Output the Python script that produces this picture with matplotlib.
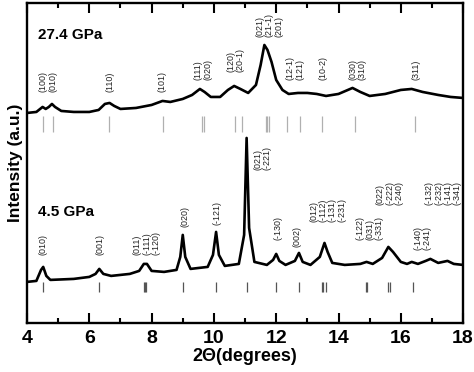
import matplotlib.pyplot as plt
import numpy as np

plt.rcParams['font.family'] = ['Liberation Sans', 'DejaVu Sans']

# curve vertices, intensity in arbitrary units (0..320)
hi_x = [4.0, 4.3, 4.5, 4.6, 4.7, 4.8, 4.9, 5.1, 5.5, 6.0, 6.3, 6.5, 6.65, 6.8, 7.0,
        7.5, 8.0, 8.35, 8.6, 9.0, 9.3, 9.55, 9.7, 9.9, 10.2, 10.45, 10.65, 10.85,
        11.1, 11.35, 11.5, 11.62, 11.72, 11.85, 12.0, 12.2, 12.4, 12.7, 13.0, 13.3,
        13.6, 14.0, 14.3, 14.45, 14.7, 15.0, 15.5, 16.0, 16.35, 16.7, 17.2, 17.6, 18.0]
hi_y = [210, 211, 216, 214, 216, 219, 216, 212, 211, 211, 213, 219, 220, 217, 214,
        215, 218, 222, 221, 224, 228, 234, 231, 226, 226, 233, 237, 234,
        230, 238, 258, 278, 273, 261, 243, 233, 229, 230, 230, 229,
        227, 229, 233, 235, 231, 227, 229, 233, 234, 231, 228, 226, 225]

lo_x = [4.0, 4.3, 4.45, 4.52, 4.62, 4.75, 5.5, 6.0, 6.2, 6.32, 6.45, 6.7, 7.3, 7.6,
        7.75, 7.85, 8.0, 8.4, 8.8, 8.92, 9.0, 9.08, 9.25, 9.8, 9.97, 10.07, 10.16,
        10.35, 10.8, 10.97, 11.05, 11.13, 11.3, 11.7, 11.9, 12.0, 12.1, 12.3, 12.6,
        12.73, 12.85, 13.1, 13.4, 13.55, 13.65, 13.8, 14.2, 14.7, 14.9, 15.1, 15.4,
        15.6, 15.75, 16.0, 16.2, 16.35, 16.55, 16.8, 16.95, 17.2, 17.5, 17.7, 18.0]
lo_y = [41, 42, 53, 56, 47, 43, 44, 46, 49, 54, 49, 47, 49, 52,
        59, 59, 52, 51, 53, 66, 88, 66, 54, 56, 68, 91, 68,
        57, 59, 88, 185, 95, 61, 58, 63, 69, 62, 58, 62,
        70, 61, 58, 66, 80, 71, 60, 58, 59, 61, 59, 65,
        76, 71, 61, 59, 61, 59, 62, 64, 60, 62, 59, 58]

# reference reflection positions
hi_refl = [4.52, 4.83, 6.63, 8.35, 9.61, 9.67, 10.68, 10.9, 11.66, 11.71, 11.78,
           12.34, 12.77, 13.46, 14.53, 16.46]
lo_refl = [4.5, 6.32, 7.77, 7.79, 7.81, 9.0, 10.08, 11.07, 11.99, 12.73, 13.46,
           13.51, 13.59, 14.88, 14.92, 15.6, 15.65, 16.38]

hi_labels = ['(100)\n(010)', '(110)', '(101)', '(111)\n(020)', '(120)\n(20-1)',
             '(021)\n(21-1)\n(201)', '(12-1)\n(121)', '(10-2)', '(030)\n(310)', '(311)']
hi_lab_x = [4.67, 6.66, 8.34, 9.65, 10.7, 11.78, 12.6, 13.5, 14.6, 16.48]
hi_lab_y = [231, 231, 231, 243, 251, 286, 243, 243, 243, 243]

lo_labels = ['(010)', '(001)', '(011)\n(-111)\n(-120)', '(020)', '(-121)',
             '(021)\n(-221)', '(-130)', '(002)', '(012)\n(-112)\n(-131)\n(-231)',
             '(-122)\n(031)\n(-331)', '(022)\n(-222)\n(-240)', '(-140)\n(-241)',
             '(-132)\n(-232)\n(-141)\n(-341)']
lo_lab_x = [4.52, 6.35, 7.84, 9.07, 10.09, 11.55, 12.07, 12.66, 13.65, 15.0, 15.64,
            16.7, 17.37]
lo_lab_y = [68, 68, 68, 96, 98, 153, 83, 76, 101, 83, 118, 73, 118]

fig = plt.figure(figsize=(4.74, 3.72), dpi=100)
ax = fig.add_axes([0.057, 0.132, 0.92, 0.86])

ax.plot(hi_x, hi_y, color='black', lw=1.9)
ax.plot(lo_x, lo_y, color='black', lw=1.9)
ax.vlines(hi_refl, 191, 207, color='#b0b0b0', lw=0.9)
ax.vlines(lo_refl, 31, 41, color='#555555', lw=0.9)

for t, x, y in zip(hi_labels, hi_lab_x, hi_lab_y):
    ax.text(x, y, t, rotation=90, ha='center', va='bottom', fontsize=6.4,
            linespacing=1.05, multialignment='left', color='#222222')
for t, x, y in zip(lo_labels, lo_lab_x, lo_lab_y):
    ax.text(x, y, t, rotation=90, ha='center', va='bottom', fontsize=6.4,
            linespacing=1.05, multialignment='left', color='#222222')

ax.text(4.35, 288, '27.4 GPa', fontsize=11, fontweight='bold', va='center')
ax.text(4.35, 111, '4.5 GPa', fontsize=11, fontweight='bold', va='center')

ax.set_xlim(4, 18)
ax.set_ylim(0, 320)
ax.set_xticks(np.arange(4, 19, 2))
ax.set_xticks(np.arange(5, 18, 2), minor=True)
ax.set_yticks([])
ax.tick_params(axis='x', which='both', direction='in', top=True, width=1.5,
               labelsize=14, pad=5)
ax.tick_params(axis='x', which='major', length=7)
ax.tick_params(axis='x', which='minor', length=3.5)
for lab in ax.get_xticklabels():
    lab.set_fontweight('bold')
for s in ax.spines.values():
    s.set_linewidth(1.7)

ax.set_xlabel('2\u0398(degrees)', fontsize=13, fontweight='bold', labelpad=1)
ax.set_ylabel('Intensity (a.u.)', fontsize=12.5, fontweight='bold', labelpad=3)

fig.savefig('out.png', dpi=100)
